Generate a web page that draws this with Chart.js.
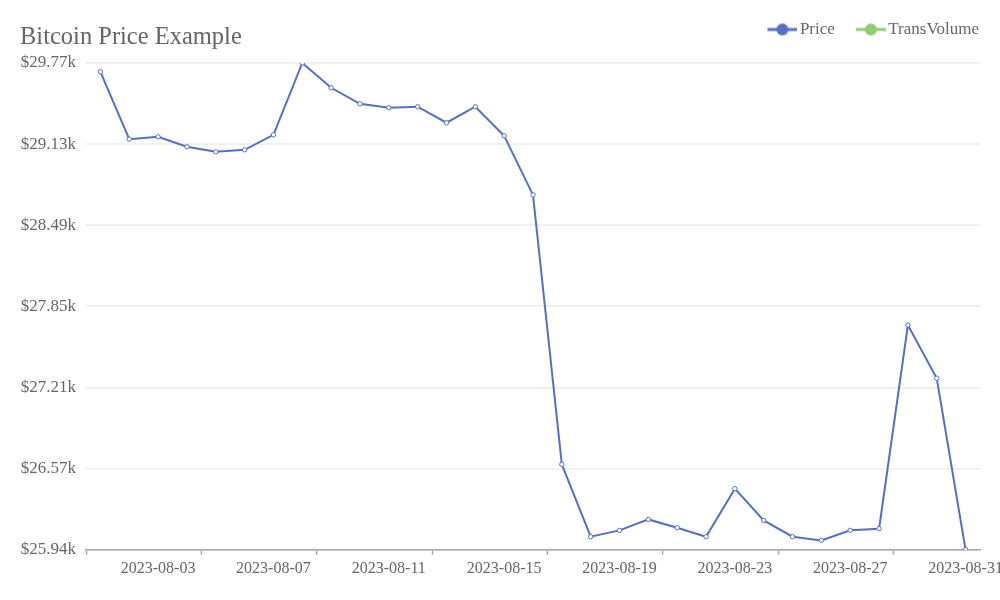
<!DOCTYPE html>
<html>
<head>
<meta charset="utf-8">
<title>Bitcoin Price Example</title>
<script src="https://cdn.jsdelivr.net/npm/chart.js@4.4.0/dist/chart.umd.min.js"></script>
<style>
  body { margin: 0; background: #fff; }
  #wrap { position: relative; width: 1000px; height: 600px; }
  #titulo {
    position: absolute;
    left: 20px;
    top: 24px;
    font: 24.5px "Liberation Serif", serif;
    line-height: 1;
    color: #666;
  }
</style>
</head>
<body>
<div id="wrap">
  <canvas id="myChart" width="1000" height="600"></canvas>
  <div id="titulo">Bitcoin Price Example</div>
</div>
<script>
const fechas = [
  "2023-08-01", "2023-08-02", "2023-08-03", "2023-08-04", "2023-08-05",
  "2023-08-06", "2023-08-07", "2023-08-08", "2023-08-09", "2023-08-10",
  "2023-08-11", "2023-08-12", "2023-08-13", "2023-08-14", "2023-08-15",
  "2023-08-16", "2023-08-17", "2023-08-18", "2023-08-19", "2023-08-20",
  "2023-08-21", "2023-08-22", "2023-08-23", "2023-08-24", "2023-08-25",
  "2023-08-26", "2023-08-27", "2023-08-28", "2023-08-29", "2023-08-30",
  "2023-08-31",
];

const precios = [
  29697, 29167, 29185, 29107, 29067, 29083, 29201, 29766, 29571, 29445,
  29414, 29422, 29296, 29422, 29193, 28728, 26608, 26039, 26089, 26175,
  26110, 26039, 26417, 26167, 26039, 26010, 26089, 26102, 27704, 27286,
  25936,
];

// no se ve ninguna linea para el volumen, solo la leyenda
const transVolume = [];

const yMin = 25936;
const yMax = 29766;
const divisionesY = 6;

// etiquetas cada 4 dias, marcas en el borde de la categoria
const indicesEtiquetas = [2, 6, 10, 14, 18, 22, 26, 30];
const indicesMarcas = [-0.5, 3.5, 7.5, 11.5, 15.5, 19.5, 23.5, 27.5];

const azul = "#5470c6";
const verde = "#91cc75";
const gris = "#666";
const fuente = "'Liberation Serif', serif";

const myChart = document.getElementById("myChart");

// icono linea + circulo; el lienzo es mas ancho para que el icono quede pegado a la izquierda
const crearIcono = (color) => {
  const c = document.createElement("canvas");
  c.width = 36;
  c.height = 14;
  const ctx = c.getContext("2d");
  ctx.strokeStyle = color;
  ctx.lineWidth = 3;
  ctx.beginPath();
  ctx.moveTo(6, 7);
  ctx.lineTo(36, 7);
  ctx.stroke();
  ctx.fillStyle = color;
  ctx.beginPath();
  ctx.arc(21, 7, 6, 0, Math.PI * 2);
  ctx.fill();
  return c;
};

const iconos = [crearIcono(azul), crearIcono(verde)];

// deja espacio entre la leyenda y el grafico
const espacioLeyenda = {
  id: "espacioLeyenda",
  beforeInit(chart) {
    const fitOriginal = chart.legend.fit;
    chart.legend.fit = function () {
      fitOriginal.call(this);
      this.height += 15;
    };
  },
};

const formatoPrecio = (v) => "$" + (v / 1000).toFixed(2) + "k";

new Chart(myChart, {
  type: "line",
  data: {
    datasets: [
      {
        label: "Price",
        data: precios.map((p, i) => ({ x: i, y: p })),
        borderColor: azul,
        backgroundColor: azul,
        borderWidth: 2,
        pointRadius: 2.2,
        pointBackgroundColor: "#fff",
        pointBorderColor: azul,
        pointBorderWidth: 1,
        tension: 0,
      },
      {
        label: "TransVolume",
        data: transVolume,
        borderColor: verde,
        backgroundColor: verde,
      },
    ],
  },
  options: {
    responsive: false,
    animation: false,
    layout: { padding: { top: 0, right: 0, bottom: 18, left: 0 } },
    plugins: {
      legend: {
        align: "end",
        labels: {
          usePointStyle: true,
          pointStyleWidth: 24,
          padding: 21,
          color: gris,
          font: { family: fuente, size: 17 },
          generateLabels: (chart) =>
            Chart.defaults.plugins.legend.labels
              .generateLabels(chart)
              .map((item, i) => ({ ...item, pointStyle: iconos[i] })),
        },
      },
      tooltip: { enabled: false },
    },
    scales: {
      x: {
        type: "linear",
        min: -0.5,
        max: 30.5,
        afterBuildTicks: (scale) => {
          const valores = [...indicesMarcas, ...indicesEtiquetas].sort((a, b) => a - b);
          scale.ticks = valores.map((v) => ({ value: v }));
        },
        afterFit: (scale) => {
          scale.paddingLeft = 0;
          scale.paddingRight = 20;
        },
        ticks: {
          autoSkip: false,
          maxRotation: 0,
          padding: 4,
          color: gris,
          font: { family: fuente, size: 16 },
          callback: (v) => (Number.isInteger(v) ? fechas[v] : ""),
        },
        grid: {
          drawOnChartArea: false,
          tickLength: 5,
          tickWidth: 1.5,
          tickColor: (ctx) => (Number.isInteger(ctx.tick.value) ? "transparent" : "#a4a4ab"),
        },
        border: { color: "#a4a4ab", width: 1.5 },
      },
      y: {
        min: yMin,
        max: yMax,
        afterBuildTicks: (scale) => {
          const paso = (yMax - yMin) / divisionesY;
          const ticks = [];
          for (let k = 0; k <= divisionesY; k++) {
            ticks.push({ value: yMin + k * paso });
          }
          scale.ticks = ticks;
        },
        afterFit: (scale) => {
          scale.width = 86;
        },
        ticks: {
          padding: 10,
          color: gris,
          font: { family: fuente, size: 17 },
          callback: formatoPrecio,
        },
        grid: { color: "#eef1f7", lineWidth: 2, drawTicks: false },
        border: { display: false },
      },
    },
  },
  plugins: [espacioLeyenda],
});
</script>
</body>
</html>
